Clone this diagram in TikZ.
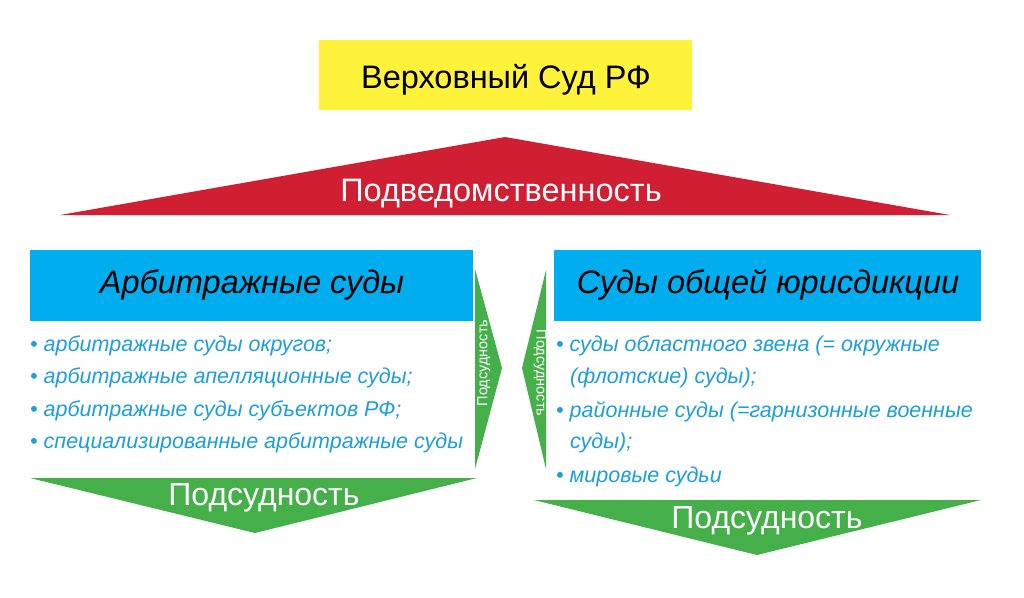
\documentclass[tikz,border=0pt]{standalone}
\usepackage{fontspec}
\setmainfont{Liberation Sans}
\definecolor{cyel}{HTML}{FFF23A}
\definecolor{cred}{HTML}{D01F32}
\definecolor{cblue}{HTML}{00AEEF}
\definecolor{cgreen}{HTML}{45B04A}
\definecolor{ctext}{HTML}{1E9FD9}
\tikzset{
  bigtxt/.style={anchor=base, inner sep=0pt, font=\fontsize{32.5}{38}\selectfont},
  headtxt/.style={anchor=base, inner sep=0pt, font=\fontsize{32.5}{38}\selectfont\itshape},
  listtxt/.style={anchor=base west, inner sep=0pt, text=ctext, font=\fontsize{21.5}{25}\selectfont\itshape},
  arrtxt/.style={anchor=base, inner sep=0pt, text=white, font=\fontsize{32}{38}\selectfont},
  vtxt/.style={inner sep=0pt, text=white, font=\fontsize{14.5}{17}\selectfont}
}
\begin{document}
\begin{tikzpicture}[x=1pt,y=-1pt]
\useasboundingbox (0,0) rectangle (1024,597);
\fill[white] (0,0) rectangle (1024,597);
% Supreme court
\fill[cyel] (319,40) rectangle (692,110);
\node[bigtxt] (vs) at (506,88) {Верховный Суд РФ};
% red triangle
\fill[cred] (60,215) -- (505,137) -- (950,215) -- cycle;
\node[bigtxt, text=white] (pv) at (501,201) {Подведомственность};
% blue boxes
\fill[cblue] (30,250) rectangle (473,321);
\node[headtxt] (arb) at (252,293) {Арбитражные суды};
\fill[cblue] (554,250) rectangle (981,321);
\node[headtxt] (soj) at (768,293) {Суды общей юрисдикции};
% left list
\node[listtxt] (l1) at (30,351) {•\ арбитражные суды округов;};
\node[listtxt] (l2) at (30,383) {•\ арбитражные апелляционные суды;};
\node[listtxt] (l3) at (30,416) {•\ арбитражные суды субъектов РФ;};
\node[listtxt] (l4) at (30,448) {•\ специализированные арбитражные суды};
% right list
\node[listtxt] (r1) at (556,351) {•\ суды областного звена (= окружные};
\node[listtxt] (r2) at (570,383) {(флотские) суды);};
\node[listtxt] (r3) at (556,417) {•\ районные суды (=гарнизонные военные};
\node[listtxt] (r4) at (570,448) {суды);};
\node[listtxt] (r5) at (556,482) {•\ мировые судьи};
% side arrows
\fill[cgreen] (475,269) -- (502,368) -- (475,469) -- cycle;
\node[vtxt, rotate=90] (vl) at (484,363) {Подсудность};
\fill[cgreen] (546,270) -- (522,368) -- (546,469) -- cycle;
\node[vtxt, rotate=-90] (vr) at (540,373) {Подсудность};
% bottom arrows
\fill[cgreen] (30,478) -- (477,478) -- (255,533) -- cycle;
\node[arrtxt] (bl) at (264,505) {Подсудность};
\fill[cgreen] (534,500) -- (981,500) -- (757,555) -- cycle;
\node[arrtxt] (br) at (767,528) {Подсудность};
\end{tikzpicture}
\end{document}
